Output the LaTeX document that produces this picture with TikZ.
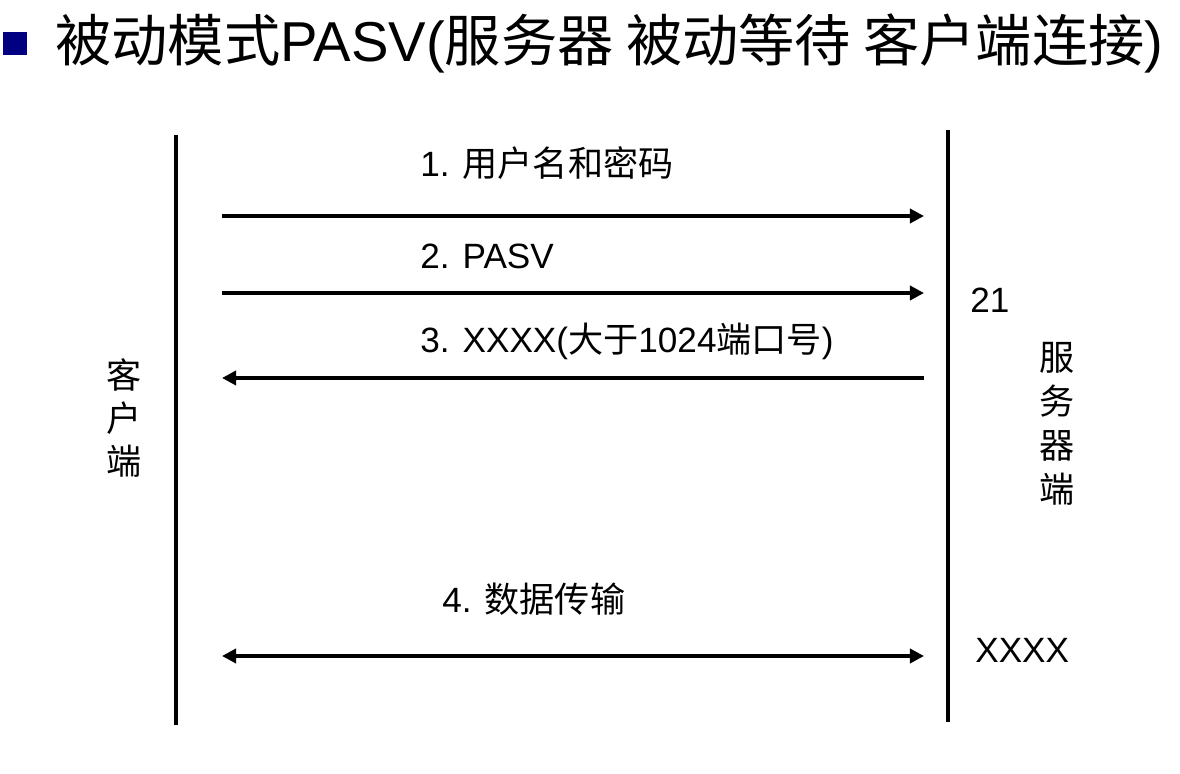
\documentclass[tikz,border=0pt]{standalone}
\usepackage{fontspec}
\setmainfont{Liberation Sans}
\newfontfamily\cjk{Noto Sans CJK SC}
\usetikzlibrary{arrows.meta}
\definecolor{bulletblue}{RGB}{0,0,128}
\newcommand{\zh}[1]{{\cjk #1}}
\tikzset{
  lifeline/.style={line width=2.7pt},
  msg/.style={line width=2pt, -{Triangle[length=8pt,width=8pt]}},
  lbl/.style={anchor=base west, inner sep=0pt, font=\fontsize{20}{24}\selectfont},
  side/.style={inner sep=0pt, align=center, font=\fontsize{20}{24.5}\selectfont\cjk},
}
\begin{document}
\begin{tikzpicture}[x=0.02cm, y=-0.02cm]
    \useasboundingbox (0,0) rectangle (1180,774);
    % title
    \fill[bulletblue] (3,32) rectangle (27,55) coordinate (bullet);
    \node[anchor=base west, inner sep=0pt, font=\fontsize{32}{38}\selectfont] (title) at (55,61)
        {\zh{被动模式}PASV(\zh{服务器 被动等待 客户端连接})};
    % lifelines
    \coordinate (c0) at (176,135);
    \coordinate (c1) at (176,725);
    \coordinate (s0) at (948,130);
    \coordinate (s1) at (948,722);
    \draw[lifeline] (c0) -- (c1);
    \draw[lifeline] (s0) -- (s1);
    \node[side] (client) at (124,418) {客\\户\\端};
    \node[side, font=\fontsize{20}{25}\selectfont\cjk] (server) at (1057,424) {服\\务\\器\\端};
    % messages
    \foreach \n/\y in {1/216, 2/293, 3/378, 4/656} {
        \coordinate (l\n) at (222,\y);
        \coordinate (r\n) at (924,\y);
    }
    \draw[msg] (l1) -- (r1);
    \draw[msg] (l2) -- (r2);
    \draw[msg] (r3) -- (l3);
    \draw[msg, {Triangle[length=8pt,width=8pt]}-{Triangle[length=8pt,width=8pt]}] (l4) -- (r4);
    \node[lbl] (m1) at (420,176) {1. \zh{用户名和密码}};
    \node[lbl] (m2) at (420,268) {2. PASV};
    \node[lbl] (m3) at (420,352) {3. XXXX(\zh{大于}1024\zh{端口号})};
    \node[lbl] (m4) at (442,612) {4. \zh{数据传输}};
    % ports
    \node[lbl] (p21) at (970,312) {21};
    \node[lbl] (pdata) at (975,662) {XXXX};
\end{tikzpicture}
\end{document}
